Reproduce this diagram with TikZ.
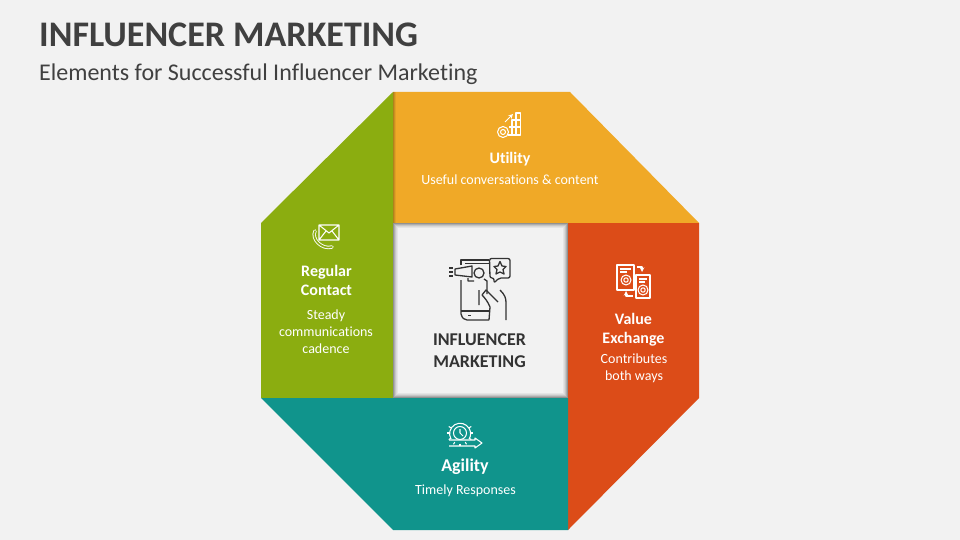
\documentclass[tikz,border=0pt]{standalone}
\usepackage{fontspec}
\setmainfont[Ligatures=NoCommon]{Carlito}
\usetikzlibrary{shapes.geometric, positioning, calc}
\definecolor{page_gray}{HTML}{F2F2F2}
\definecolor{ink_dark}{HTML}{404040}
\definecolor{center_ink}{HTML}{333333}
\definecolor{util_yellow}{HTML}{F0A927}
\definecolor{contact_green}{HTML}{8BAD10}
\definecolor{value_orange}{HTML}{DC4C18}
\definecolor{agile_teal}{HTML}{10948C}
\tikzset{
  title/.style={anchor=west,text=ink_dark,font=\fontsize{36}{40}\selectfont\bfseries,inner sep=0pt},
  subtitle/.style={anchor=west,text=ink_dark,font=\fontsize{24}{28}\selectfont,inner sep=0pt},
  head/.style={text=white,align=center,font=\fontsize{16}{19}\selectfont\bfseries,inner sep=0pt},
  headbig/.style={head,font=\fontsize{18}{21}\selectfont\bfseries},
  body/.style={text=white,align=center,font=\fontsize{14}{17}\selectfont,inner sep=0pt},
  centerlabel/.style={text=center_ink,align=center,font=\fontsize{18}{21.5}\selectfont\bfseries,inner sep=0pt},
  icon/.style={draw=white,line width=1.05pt,line join=round,fill=none},
  iconc/.style={draw=center_ink,line width=1.3pt,line join=round,fill=none},
}
\begin{document}
\begin{tikzpicture}[x=1pt,y=-1pt]
	\useasboundingbox[fill=page_gray] (0,0) rectangle (960,540);
	% heading
	\node[title] (T) at (39,34.5) {INFLUENCER MARKETING};
	\node[subtitle] (S) at (39,74.5) {Elements for Successful Influencer Marketing};
	% octagon pieces
	\fill[util_yellow] (393,92) -- (570,92) -- (699,223) -- (393,223) -- cycle;
	\foreach \d/\o in {.5/.25,1.5/.15,2.5/.06}
		\draw[black,opacity=\o,line width=1pt] (393+\d,92) -- (393+\d,223);
	\fill[contact_green] (393,92) -- (393,398) -- (261,398) -- (261,223) -- cycle;
	\fill[value_orange] (568,223) -- (699,223) -- (699,398) -- (568,530) -- cycle;
	\fill[agile_teal] (261,398) -- (568,398) -- (568,530) -- (393,530) -- cycle;
	% middle square, soft edge
	\fill[page_gray] (393,223) rectangle (568,398);
	\foreach \d/\o in {.5/.4,1.5/.28,2.5/.18,3.5/.1,4.5/.05}
		\draw[black,opacity=\o,line width=1pt] (393+\d,223+\d) rectangle (568-\d,398-\d);
	% texts
	\node[head] (U) at (510,159.5) {Utility};
	\node[body] (Ub) at (510,179.5) {Useful conversations \& content};
	\node[head] (R) at (326.5,280) {Regular\\Contact};
	\node[body] (Rb) at (326,332) {Steady\\communications\\cadence};
	\node[head] (V) at (633.5,330) {Value\\Exchange};
	\node[body] (Vb) at (634,368) {Contributes\\both ways};
	\node[headbig] (A) at (465,466.5) {Agility};
	\node[body] (Ab) at (465.5,491) {Timely Responses};
	\node[centerlabel] (C) at (479.5,350.5) {INFLUENCER\\MARKETING};
	% utility icon
	\draw[icon] (503,132) circle (5.5) (503,132) circle (2.5);
	\draw[icon] (516,113) rectangle (520.5,135) (512,120) rectangle (516,135) (509,127) -- (512,127);
	\draw[icon] (516,120) -- (520.5,120) (512,127) -- (520.5,127) (508,135) -- (512,135);
	\draw[icon,->,>=stealth] (505,122) -- (513,114);
	% contact icon
	\draw[icon] (319,225) rectangle (339,240) (319,225) -- (329,233) -- (339,225) (319,240) -- (326,231) (339,240) -- (332,231);
	\draw[white,line width=3.4pt,line cap=round] (315,231) .. controls (311,239) and (322,250) .. (332,247);
	\draw[contact_green,line width=1.6pt,line cap=round] (315,231) .. controls (311,239) and (322,250) .. (332,247);
	% value icon
	\draw[icon] (617,265) rectangle (634,290) (636,275) rectangle (650,298);
	\draw[icon] (626,280) circle (5) (626,280) circle (2.2) (643,290) circle (5) (643,290) circle (2.2);
	\draw[icon] (620,269) -- (631,269) (620,272) -- (627,272) (639,279) -- (647,279) (639,282) -- (645,282);
	\draw[icon,->,>=stealth] (637,267) -- (642,267) -- (642,272);
	\draw[icon,->,>=stealth] (633,296) -- (626,296) -- (626,291);
	% agility icon
	\draw[icon] (460,433) circle (6.5);
	\draw[icon] (460,429) -- (460,433) -- (463,436);
	\draw[icon] (451,439) arc (150:390:10.5);
	\foreach \a in {150,180,...,390}
		\draw[icon] (460,433) ++({-\a}:10.5) -- ++({-\a}:2.5);
	\draw[icon] (449,440) -- (475,440) -- (475,438) -- (482,443) -- (475,448) -- (475,446) -- (449,446);
	% middle icon
	\draw[iconc,rounded corners=2pt] (489,320) -- (465,320) -- (461,316) -- (461,280);
	\draw[iconc] (461,311) -- (489,311) (468,315.5) -- (471,315.5);
	\draw[iconc] (461,265) -- (461,260) -- (489,260) (465,263.5) -- (489,263.5);
	\draw[iconc] (455,269) -- (472,266) -- (472,277) -- (455,275) -- cycle;
	\draw[iconc] (449,268) -- (453,268) (449,272) -- (453,272) (449,276) -- (453,276);
	\draw[iconc] (479,273) circle (5);
	\draw[iconc] (468,278) -- (468,281) -- (474,281) (484,279) -- (487,281) -- (487,294);
	\draw[iconc] (479,290) -- (479,305) (489,320) -- (490,307) .. controls (488,302) and (485,298) .. (482,295) -- (486,290) -- (498,302);
	\draw[iconc] (500,290) .. controls (505,295) and (506,298) .. (506,303) -- (506,320);
	\draw[iconc,rounded corners=2pt] (494,278) -- (490,278) -- (489.5,258.5) -- (510,258.5) -- (510,278) -- (499,278) -- (494,283) -- cycle;
	\draw[iconc] (500,261.5) -- (502,266) -- (506,266.5) -- (503,269.5) -- (504,274) -- (500,272) -- (496,274) -- (497,269.5) -- (494,266.5) -- (498,266) -- cycle;
\end{tikzpicture}
\end{document}
